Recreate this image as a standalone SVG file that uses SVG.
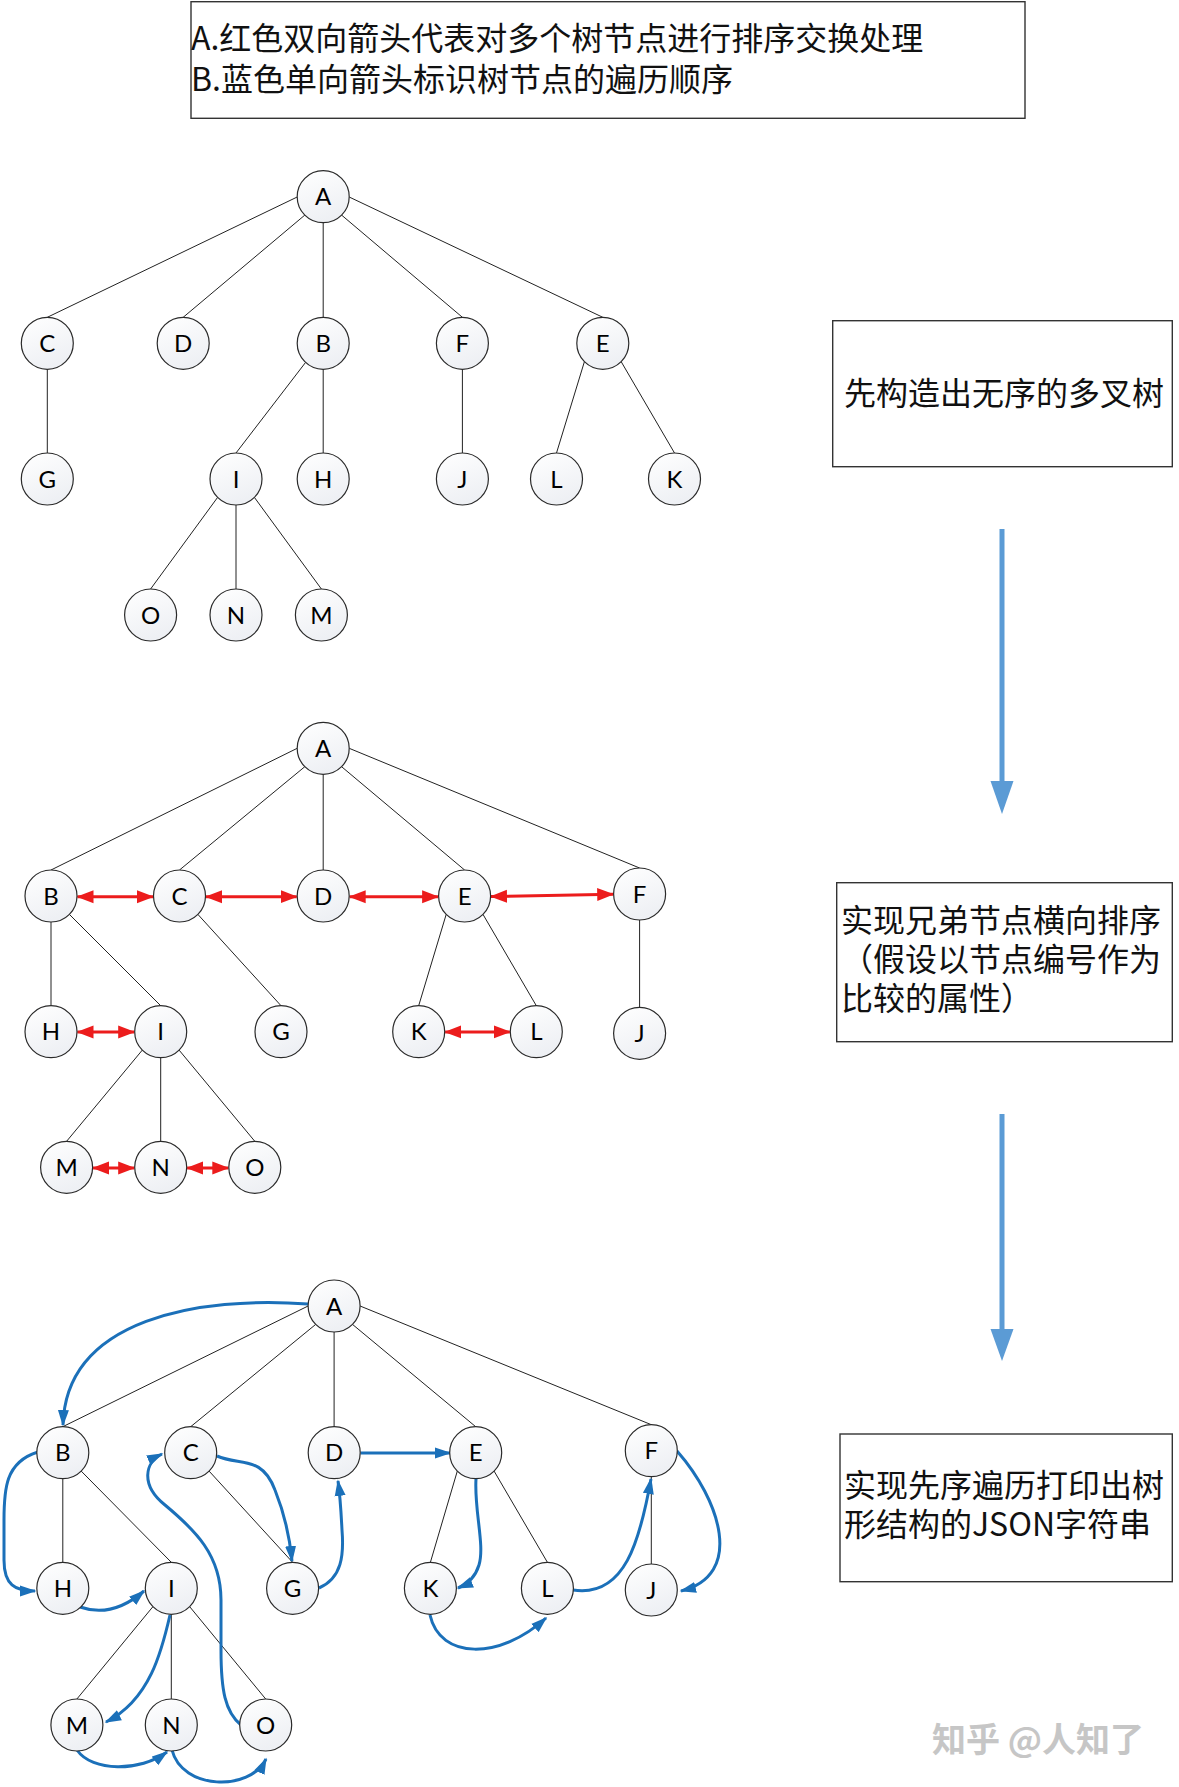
<svg xmlns="http://www.w3.org/2000/svg" width="1179" height="1787" viewBox="0 0 1179 1787">
<style>
.bg{fill:#ffffff}
.box{fill:#ffffff;stroke:#333333;stroke-width:1.4}
.cn{font-family:"Noto Sans CJK SC","Noto Sans",sans-serif;font-size:32px;fill:#111111}
.nd circle{fill:url(#ng);stroke:#2a2a2a;stroke-width:1.2}
.nd text{font-family:Lato,"Liberation Sans",sans-serif;font-size:24px;fill:#000000;text-anchor:middle}
.edge line{stroke:#222222;stroke-width:1}
.red{stroke:#ec1c1c;stroke-width:3;fill:none;marker-start:url(#rh);marker-end:url(#rh)}
.blue{stroke:#1b70b9;stroke-width:3;fill:none;marker-end:url(#bh)}
.flow{stroke:#5b9bd5;stroke-width:5;fill:none}
.wm{font-family:"Noto Sans CJK SC",sans-serif;font-size:34px;fill:#c6c6c6;font-weight:bold}
</style>
<defs>
<linearGradient id="ng" x1="0" y1="0" x2="0.4" y2="1">
<stop offset="0" stop-color="#ffffff"/>
<stop offset="1" stop-color="#eef0f4"/>
</linearGradient>
<marker id="rh" markerUnits="userSpaceOnUse" markerWidth="18" markerHeight="14" viewBox="0 0 18 14" refX="16" refY="7" orient="auto-start-reverse">
<path d="M0,0.5 L17,7 L0,13.5 Z" fill="#ec1c1c"/>
</marker>
<marker id="bh" markerUnits="userSpaceOnUse" markerWidth="17" markerHeight="12" viewBox="0 0 17 12" refX="15" refY="6" orient="auto">
<path d="M0,0.5 L16.5,6 L0,11.5 Z" fill="#1b70b9"/>
</marker>
</defs>
<rect class="bg" x="0" y="0" width="1179" height="1787"/>

<g id="legend">
<rect class="box" x="191" y="1.7" width="834" height="116.6"/>
<text class="cn" x="191" y="50">A.红色双向箭头代表对多个树节点进行排序交换处理</text>
<text class="cn" x="191" y="91">B.蓝色单向箭头标识树节点的遍历顺序</text>
</g>

<g id="step1">
<rect class="box" x="832.7" y="320.7" width="339.6" height="146"/>
<text class="cn" x="844" y="405">先构造出无序的多叉树</text>
</g>
<g id="step2">
<rect class="box" x="836.7" y="882.7" width="335.6" height="159"/>
<text class="cn" x="841" y="932">实现兄弟节点横向排序</text>
<text class="cn" x="841" y="971">（假设以节点编号作为</text>
<text class="cn" x="841" y="1010">比较的属性）</text>
</g>
<g id="step3">
<rect class="box" x="840" y="1434" width="332.3" height="147.7"/>
<text class="cn" x="844" y="1497">实现先序遍历打印出树</text>
<text class="cn" x="844" y="1536">形结构的JSON字符串</text>
</g>

<g id="connectors">
<line class="flow" x1="1002" y1="529" x2="1002" y2="784"/>
<polygon points="990.5,781 1013.5,781 1002,814" fill="#5b9bd5"/>
<line class="flow" x1="1002" y1="1114" x2="1002" y2="1332"/>
<polygon points="990.5,1329 1013.5,1329 1002,1361" fill="#5b9bd5"/>

<g class="edge">
<line x1="297.2" y1="197" x2="47.3" y2="317.3"/>
<line x1="304.8" y1="215.1" x2="183.2" y2="317.3"/>
<line x1="323.2" y1="222.7" x2="323.2" y2="317.3"/>
<line x1="341.6" y1="215.1" x2="462.4" y2="317.3"/>
<line x1="349.2" y1="197" x2="602.8" y2="317.3"/>
<line x1="47.3" y1="369.3" x2="47.3" y2="453"/>
<line x1="305.5" y1="362.5" x2="236" y2="453"/>
<line x1="323.2" y1="369.3" x2="323.2" y2="453"/>
<line x1="462.4" y1="369.3" x2="462.4" y2="453"/>
<line x1="584.4" y1="361.7" x2="556.5" y2="453"/>
<line x1="621.2" y1="361.7" x2="674.5" y2="453"/>
<line x1="217.6" y1="497.4" x2="150.6" y2="589"/>
<line x1="236" y1="505" x2="236" y2="589"/>
<line x1="254.4" y1="497.4" x2="321.4" y2="589"/>
</g>

<g class="edge">
<line x1="297.2" y1="748.3" x2="51" y2="870"/>
<line x1="304.8" y1="766.7" x2="179.5" y2="870"/>
<line x1="323.2" y1="774.3" x2="323.2" y2="870"/>
<line x1="341.6" y1="766.7" x2="464.6" y2="870"/>
<line x1="349.2" y1="748.3" x2="639.6" y2="868"/>
<line x1="51" y1="922" x2="51" y2="1005.7"/>
<line x1="69.4" y1="914.4" x2="160.7" y2="1005.7"/>
<line x1="197.9" y1="914.4" x2="281" y2="1005.7"/>
<line x1="446.2" y1="914.4" x2="418.7" y2="1005.7"/>
<line x1="483" y1="914.4" x2="536.3" y2="1005.7"/>
<line x1="639.6" y1="920" x2="639.6" y2="1007.3"/>
<line x1="142.3" y1="1050.1" x2="66.6" y2="1141.3"/>
<line x1="160.7" y1="1057.7" x2="160.7" y2="1141.3"/>
<line x1="179.1" y1="1050.1" x2="254.8" y2="1141.3"/>
</g>

<line class="red" x1="77.5" y1="896.7" x2="153" y2="896.7"/>
<line class="red" x1="206" y1="896.7" x2="296.7" y2="896.7"/>
<line class="red" x1="349.7" y1="896.7" x2="438.1" y2="896.7"/>
<line class="red" x1="491" y1="896.5" x2="613.2" y2="894.3"/>
<line class="red" x1="77.5" y1="1031.9" x2="134.2" y2="1031.9"/>
<line class="red" x1="445.2" y1="1031.9" x2="509.8" y2="1031.9"/>
<line class="red" x1="93.1" y1="1168" x2="134.2" y2="1168"/>
<line class="red" x1="187.2" y1="1168" x2="228.3" y2="1168"/>

<g class="edge">
<line x1="308.1" y1="1306" x2="62.8" y2="1426.7"/>
<line x1="315.7" y1="1324.4" x2="190.7" y2="1426.7"/>
<line x1="334.1" y1="1332" x2="334.1" y2="1426.7"/>
<line x1="352.5" y1="1324.4" x2="475.7" y2="1426.7"/>
<line x1="360.1" y1="1306" x2="651.3" y2="1424.7"/>
<line x1="62.8" y1="1478.7" x2="62.8" y2="1562.3"/>
<line x1="81.2" y1="1471.1" x2="171.3" y2="1562.3"/>
<line x1="209.1" y1="1471.1" x2="292.6" y2="1562.3"/>
<line x1="457.3" y1="1471.1" x2="430.4" y2="1562.3"/>
<line x1="494.1" y1="1471.1" x2="547.4" y2="1562.3"/>
<line x1="651.3" y1="1476.7" x2="651.3" y2="1564"/>
<line x1="152.9" y1="1606.7" x2="76.9" y2="1699"/>
<line x1="171.3" y1="1614.3" x2="171.3" y2="1699"/>
<line x1="189.7" y1="1606.7" x2="265.7" y2="1699"/>
</g>

<path class="blue" d="M308,1304 C200,1296 66,1318 63,1425"/>
<path class="blue" d="M38,1452 C5,1462 4,1490 4,1520 L4,1560 C4,1585 15,1591 35,1591"/>
<path class="blue" d="M80,1607 C100,1614 122,1610 144,1591"/>
<path class="blue" d="M170,1615 C162,1650 150,1700 106,1722"/>
<path class="blue" d="M77,1750 C92,1772 140,1772 167,1752"/>
<path class="blue" d="M172,1750 C182,1790 250,1792 266,1759"/>
<path class="blue" d="M241,1725 C225,1712 221,1690 221,1650 L221,1600 C221,1555 195,1530 165,1505 C140,1485 145,1462 162,1454"/>
<path class="blue" d="M217,1456 C240,1466 262,1455 275,1490 C285,1515 290,1540 292,1561"/>
<path class="blue" d="M319,1588 C342,1578 344,1555 342,1530 C341,1510 340,1495 338,1481"/>
<path class="blue" d="M360.5,1453 L450,1453"/>
<path class="blue" d="M476,1479 C474,1510 485,1545 479,1565 C475,1578 468,1584 458,1588"/>
<path class="blue" d="M430,1615 C440,1660 500,1660 546,1618"/>
<path class="blue" d="M573,1590 C625,1598 640,1540 651,1479"/>
<path class="blue" d="M677,1451 C720,1500 745,1575 681,1591"/>
</g>

<g id="t1-A" class="nd"><circle cx="323.2" cy="196.7" r="26"/><text x="323.2" y="205.3">A</text></g>
<g id="t1-C" class="nd"><circle cx="47.3" cy="343.3" r="26"/><text x="47.3" y="351.9">C</text></g>
<g id="t1-D" class="nd"><circle cx="183.2" cy="343.3" r="26"/><text x="183.2" y="351.9">D</text></g>
<g id="t1-B" class="nd"><circle cx="323.2" cy="343.3" r="26"/><text x="323.2" y="351.9">B</text></g>
<g id="t1-F" class="nd"><circle cx="462.4" cy="343.3" r="26"/><text x="462.4" y="351.9">F</text></g>
<g id="t1-E" class="nd"><circle cx="602.8" cy="343.3" r="26"/><text x="602.8" y="351.9">E</text></g>
<g id="t1-G" class="nd"><circle cx="47.3" cy="479" r="26"/><text x="47.3" y="487.6">G</text></g>
<g id="t1-I" class="nd"><circle cx="236" cy="479" r="26"/><text x="236" y="487.6">I</text></g>
<g id="t1-H" class="nd"><circle cx="323.2" cy="479" r="26"/><text x="323.2" y="487.6">H</text></g>
<g id="t1-J" class="nd"><circle cx="462.4" cy="479" r="26"/><text x="462.4" y="487.6">J</text></g>
<g id="t1-L" class="nd"><circle cx="556.5" cy="479" r="26"/><text x="556.5" y="487.6">L</text></g>
<g id="t1-K" class="nd"><circle cx="674.5" cy="479" r="26"/><text x="674.5" y="487.6">K</text></g>
<g id="t1-O" class="nd"><circle cx="150.6" cy="615" r="26"/><text x="150.6" y="623.6">O</text></g>
<g id="t1-N" class="nd"><circle cx="236" cy="615" r="26"/><text x="236" y="623.6">N</text></g>
<g id="t1-M" class="nd"><circle cx="321.4" cy="615" r="26"/><text x="321.4" y="623.6">M</text></g>

<g id="t2-A" class="nd"><circle cx="323.2" cy="748.3" r="26"/><text x="323.2" y="756.9">A</text></g>
<g id="t2-B" class="nd"><circle cx="51" cy="896" r="26"/><text x="51" y="904.6">B</text></g>
<g id="t2-C" class="nd"><circle cx="179.5" cy="896" r="26"/><text x="179.5" y="904.6">C</text></g>
<g id="t2-D" class="nd"><circle cx="323.2" cy="896" r="26"/><text x="323.2" y="904.6">D</text></g>
<g id="t2-E" class="nd"><circle cx="464.6" cy="896" r="26"/><text x="464.6" y="904.6">E</text></g>
<g id="t2-F" class="nd"><circle cx="639.6" cy="894" r="26"/><text x="639.6" y="902.6">F</text></g>
<g id="t2-H" class="nd"><circle cx="51" cy="1031.7" r="26"/><text x="51" y="1040.3">H</text></g>
<g id="t2-I" class="nd"><circle cx="160.7" cy="1031.7" r="26"/><text x="160.7" y="1040.3">I</text></g>
<g id="t2-G" class="nd"><circle cx="281" cy="1031.7" r="26"/><text x="281" y="1040.3">G</text></g>
<g id="t2-K" class="nd"><circle cx="418.7" cy="1031.7" r="26"/><text x="418.7" y="1040.3">K</text></g>
<g id="t2-L" class="nd"><circle cx="536.3" cy="1031.7" r="26"/><text x="536.3" y="1040.3">L</text></g>
<g id="t2-J" class="nd"><circle cx="639.6" cy="1033.3" r="26"/><text x="639.6" y="1041.9">J</text></g>
<g id="t2-M" class="nd"><circle cx="66.6" cy="1167.3" r="26"/><text x="66.6" y="1175.9">M</text></g>
<g id="t2-N" class="nd"><circle cx="160.7" cy="1167.3" r="26"/><text x="160.7" y="1175.9">N</text></g>
<g id="t2-O" class="nd"><circle cx="254.8" cy="1167.3" r="26"/><text x="254.8" y="1175.9">O</text></g>

<g id="t3-A" class="nd"><circle cx="334.1" cy="1306" r="26"/><text x="334.1" y="1314.6">A</text></g>
<g id="t3-B" class="nd"><circle cx="62.8" cy="1452.7" r="26"/><text x="62.8" y="1461.3">B</text></g>
<g id="t3-C" class="nd"><circle cx="190.7" cy="1452.7" r="26"/><text x="190.7" y="1461.3">C</text></g>
<g id="t3-D" class="nd"><circle cx="334.2" cy="1452.7" r="26"/><text x="334.2" y="1461.3">D</text></g>
<g id="t3-E" class="nd"><circle cx="475.7" cy="1452.7" r="26"/><text x="475.7" y="1461.3">E</text></g>
<g id="t3-F" class="nd"><circle cx="651.3" cy="1450.7" r="26"/><text x="651.3" y="1459.3">F</text></g>
<g id="t3-H" class="nd"><circle cx="62.8" cy="1588.3" r="26"/><text x="62.8" y="1596.9">H</text></g>
<g id="t3-I" class="nd"><circle cx="171.3" cy="1588.3" r="26"/><text x="171.3" y="1596.9">I</text></g>
<g id="t3-G" class="nd"><circle cx="292.6" cy="1588.3" r="26"/><text x="292.6" y="1596.9">G</text></g>
<g id="t3-K" class="nd"><circle cx="430.4" cy="1588.3" r="26"/><text x="430.4" y="1596.9">K</text></g>
<g id="t3-L" class="nd"><circle cx="547.4" cy="1588.3" r="26"/><text x="547.4" y="1596.9">L</text></g>
<g id="t3-J" class="nd"><circle cx="651.3" cy="1590" r="26"/><text x="651.3" y="1598.6">J</text></g>
<g id="t3-M" class="nd"><circle cx="76.9" cy="1725" r="26"/><text x="76.9" y="1733.6">M</text></g>
<g id="t3-N" class="nd"><circle cx="171.3" cy="1725" r="26"/><text x="171.3" y="1733.6">N</text></g>
<g id="t3-O" class="nd"><circle cx="265.7" cy="1725" r="26"/><text x="265.7" y="1733.6">O</text></g>

<text class="wm" x="932" y="1752">知乎 @人知了</text>
</svg>
